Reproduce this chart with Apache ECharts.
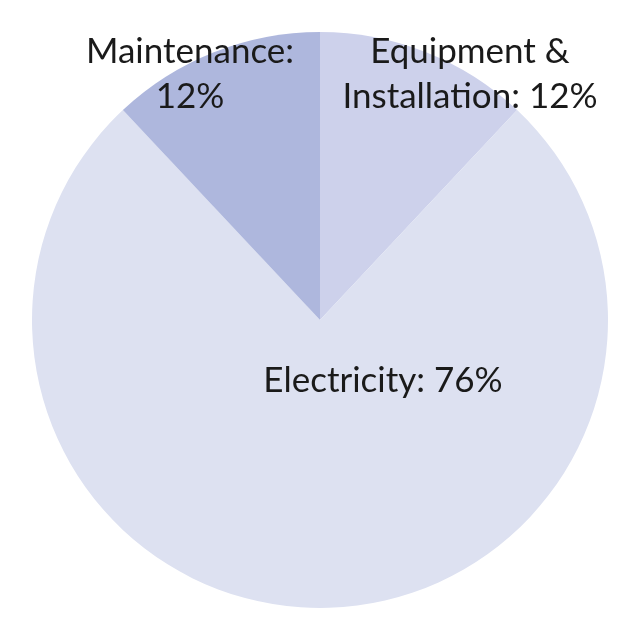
<!DOCTYPE html>
<html><head><meta charset="utf-8">
<script src="https://cdn.jsdelivr.net/npm/echarts@6/dist/echarts.min.js"></script>
<style>html,body{margin:0;padding:0;background:#fff}#c{width:640px;height:640px}</style>
</head><body><div id="c"></div>
<script>
const categories = ['Equipment &\nInstallation', 'Electricity', 'Maintenance'];
const values = [12, 76, 12];
const labelSep = [' ', ' ', '\n'];
const colors = ['#cdd1eb', '#dde1f1', '#aeb7dd'];
const labelPos = [[470, 74], [383, 381], [190, 74]];

const chart = echarts.init(document.getElementById('c'), null, {renderer: 'canvas'});
chart.setOption({
  animation: false,
  series: [{
    type: 'pie',
    center: [320, 320],
    radius: [0, 288],
    startAngle: 90,
    clockwise: true,
    silent: true,
    data: categories.map((n, i) => ({name: n, value: values[i], itemStyle: {color: colors[i]}})),
    label: {
      show: true,
      position: 'inside',
      formatter: p => p.name + ':' + labelSep[p.dataIndex] + p.value + '%',
      fontFamily: 'Lato',
      fontSize: 35,
      lineHeight: 45,
      color: '#1a1a1a',
      align: 'center'
    },
    labelLine: {show: false},
    labelLayout: p => ({x: labelPos[p.dataIndex][0], y: labelPos[p.dataIndex][1], align: 'center', verticalAlign: 'middle'})
  }]
});
</script></body></html>
